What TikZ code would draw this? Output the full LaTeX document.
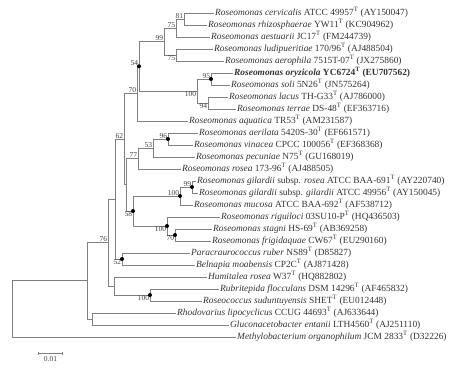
\documentclass[tikz,border=0pt]{standalone}
\usepackage{fontspec}
\setmainfont{Liberation Serif}
\usetikzlibrary{arrows.meta}
\definecolor{treegray}{gray}{0.5}
\newcommand{\T}{\textsuperscript{T}}
\tikzset{
  taxon/.style = {
    anchor=west, inner sep=1pt, text=black!80,
    font=\fontsize{9.4}{11}\selectfont, text height=6.5pt, text depth=1.5pt
  },
  bootval/.style = {
    inner sep=0.6pt, text=black!75, font=\fontsize{7.5}{8}\selectfont
  },
  branch/.style = { draw=treegray, line width=0.9pt },
  support/.style = { fill=black }
}

\begin{document}
\begin{tikzpicture}[x=1pt, y=-1pt]
  \useasboundingbox (0,0) rectangle (456,373);

    % ------------------------------------------------------------- Taxa
    \node [taxon] (l1)  at (214,13)  {\textit{Roseomonas cervicalis} ATCC 49957\T{} (AY150047)};
    \node [taxon] (l2)  at (207,25)  {\textit{Roseomonas rhizosphaerae} YW11\T{} (KC904962)};
    \node [taxon] (l3)  at (210,37)  {\textit{Roseomonas aestuarii} JC17\T{} (FM244739)};
    \node [taxon] (l4)  at (213,49)  {\textit{Roseomonas ludipueritiae} 170/96\T{} (AJ488504)};
    \node [taxon] (l5)  at (224,61)  {\textit{Roseomonas aerophila} 7515T-07\T{} (JX275860)};
    \node [taxon] (l6)  at (233,73)  {\textbf{\textit{Roseomonas oryzicola} YC6724\T{} (EU707562)}};
    \node [taxon] (l7)  at (230,85)  {\textit{Roseomonas soli} 5N26\T{} (JN575264)};
    \node [taxon] (l8)  at (228,97)  {\textit{Roseomonas lacus} TH-G33\T{} (AJ786000)};
    \node [taxon] (l9)  at (236,109) {\textit{Roseomonas terrae} DS-48\T{} (EF363716)};
    \node [taxon] (l10) at (188,121) {\textit{Roseomonas aquatica} TR53\T{} (AM231587)};
    \node [taxon] (l11) at (198,133) {\textit{Roseomonas aerilata} 5420S-30\T{} (EF661571)};
    \node [taxon] (l12) at (193,145) {\textit{Roseomonas vinacea} CPCC 100056\T{} (EF368368)};
    \node [taxon] (l13) at (195,157) {\textit{Roseomonas pecuniae} N75\T{} (GU168019)};
    \node [taxon] (l14) at (181,169) {\textit{Roseomonas rosea} 173-96\T{} (AJ488505)};
    \node [taxon] (l15) at (196,181) {\textit{Roseomonas gilardii} subsp. \textit{rosea} ATCC BAA-691\T{} (AY220740)};
    \node [taxon] (l16) at (198,193) {\textit{Roseomonas gilardii} subsp. \textit{gilardii} ATCC 49956\T{} (AY150045)};
    \node [taxon] (l17) at (193,205) {\textit{Roseomonas mucosa} ATCC BAA-692\T{} (AF538712)};
    \node [taxon] (l18) at (220,217) {\textit{Roseomonas riguiloci} 03SU10-P\T{} (HQ436503)};
    \node [taxon] (l19) at (212,229) {\textit{Roseomonas stagni} HS-69\T{} (AB369258)};
    \node [taxon] (l20) at (211,241) {\textit{Roseomonas frigidaquae} CW67\T{} (EU290160)};
    \node [taxon] (l21) at (190,253) {\textit{Paracraurococcus ruber} NS89\T{} (D85827)};
    \node [taxon] (l22) at (195,265) {\textit{Belnapia moabensis} CP2C\T{} (AJ871428)};
    \node [taxon] (l23) at (207,277) {\textit{Humitalea rosea} W37\T{} (HQ882802)};
    \node [taxon] (l24) at (219,289) {\textit{Rubritepida flocculans} DSM 14296\T{} (AF465832)};
    \node [taxon] (l25) at (202,301) {\textit{Roseococcus suduntuyensis} SHET\T{} (EU012448)};
    \node [taxon] (l26) at (176,313) {\textit{Rhodovarius lipocyclicus} CCUG 44693\T{} (AJ633644)};
    \node [taxon] (l27) at (229,325) {\textit{Gluconacetobacter entanii} LTH4560\T{} (AJ251110)};
    \node [taxon] (l28) at (236,337) {\textit{Methylobacterium organophilum} JCM 2833\T{} (D32226)};

    % ------------------------------------------------------- Inner nodes
    \coordinate (n81)   at (184,19);
    \coordinate (n75a)  at (176,28);
    \coordinate (n75b)  at (176,55);
    \coordinate (n99a)  at (164,41.5);
    \coordinate (n95)   at (211,79);
    \coordinate (n94)   at (208,103);
    \coordinate (n100a) at (197,91);
    \coordinate (n54)   at (139,66.25);
    \coordinate (n70a)  at (137,93.6);
    \coordinate (n96)   at (168,139);
    \coordinate (n53)   at (153,148);
    \coordinate (n77)   at (138,158.5);
    \coordinate (n99b)  at (192,187);
    \coordinate (n100b) at (180,196);
    \coordinate (n70b)  at (175,235);
    \coordinate (n100c) at (167,226);
    \coordinate (n58)   at (133,211);
    \coordinate (nrose) at (126,184.75);
    \coordinate (n62)   at (124,139);
    \coordinate (n52)   at (122,259);
    \coordinate (nfam)  at (115,199);
    \coordinate (n100d) at (150,295);
    \coordinate (nhum)  at (114,286);
    \coordinate (n76)   at (108,242.5);
    \coordinate (nrho)  at (92,319);
    \coordinate (nacet) at (87,280.75);
    \coordinate (root)  at (12,308.9);

    % ---------------------------------------------------------- Branches
    \draw [branch] (n81) |- (l1);   \draw [branch] (n81) |- (l2);
    \draw [branch] (n75a) |- (n81); \draw [branch] (n75a) |- (l3);
    \draw [branch] (n75b) |- (l4);  \draw [branch] (n75b) |- (l5);
    \draw [branch] (n99a) |- (n75a); \draw [branch] (n99a) |- (n75b);
    \draw [branch] (n95) |- (l6);   \draw [branch] (n95) |- (l7);
    \draw [branch] (n94) |- (l8);   \draw [branch] (n94) |- (l9);
    \draw [branch] (n100a) |- (n95); \draw [branch] (n100a) |- (n94);
    \draw [branch] (n54) |- (n99a); \draw [branch] (n54) |- (n100a);
    \draw [branch] (n70a) |- (n54); \draw [branch] (n70a) |- (l10);
    \draw [branch] (n96) |- (l11);  \draw [branch] (n96) |- (l12);
    \draw [branch] (n53) |- (n96);  \draw [branch] (n53) |- (l13);
    \draw [branch] (n77) |- (n53);  \draw [branch] (n77) |- (l14);
    \draw [branch] (n99b) |- (l15); \draw [branch] (n99b) |- (l16);
    \draw [branch] (n100b) |- (n99b); \draw [branch] (n100b) |- (l17);
    \draw [branch] (n70b) |- (l19); \draw [branch] (n70b) |- (l20);
    \draw [branch] (n100c) |- (l18); \draw [branch] (n100c) |- (n70b);
    \draw [branch] (n58) |- (n100b); \draw [branch] (n58) |- (n100c);
    \draw [branch] (nrose) |- (n77); \draw [branch] (nrose) |- (n58);
    \draw [branch] (n62) |- (n70a); \draw [branch] (n62) |- (nrose);
    \draw [branch] (n52) |- (l21);  \draw [branch] (n52) |- (l22);
    \draw [branch] (nfam) |- (n62); \draw [branch] (nfam) |- (n52);
    \draw [branch] (n100d) |- (l24); \draw [branch] (n100d) |- (l25);
    \draw [branch] (nhum) |- (l23); \draw [branch] (nhum) |- (n100d);
    \draw [branch] (n76) |- (nfam); \draw [branch] (n76) |- (nhum);
    \draw [branch] (nrho) |- (l26); \draw [branch] (nrho) |- (l27);
    \draw [branch] (nacet) |- (n76); \draw [branch] (nacet) |- (nrho);
    \draw [branch] (root) |- (nacet); \draw [branch] (root) |- (l28);

    % ------------------------------------------------- Bootstrap values
    \node [bootval, anchor=south east] (b81)   at (n81)   {81};
    \node [bootval, anchor=south east] (b75a)  at (n75a)  {75};
    \node [bootval, anchor=north east] (b75b)  at (n75b)  {75};
    \node [bootval, anchor=south east] (b99a)  at (n99a)  {99};
    \node [bootval, anchor=south east] (b95)   at (n95)   {95};
    \node [bootval, anchor=north east] (b94)   at (n94)   {94};
    \node [bootval, anchor=north east] (b100a) at (n100a) {100};
    \node [bootval, anchor=south east] (b54)   at (n54)   {54};
    \node [bootval, anchor=south east] (b70a)  at (n70a)  {70};
    \node [bootval, anchor=south east] (b96)   at (n96)   {96};
    \node [bootval, anchor=south east] (b53)   at (n53)   {53};
    \node [bootval, anchor=south east] (b77)   at (n77)   {77};
    \node [bootval, anchor=south east] (b62)   at (n62)   {62};
    \node [bootval, anchor=south east] (b99b)  at (n99b)  {99};
    \node [bootval, anchor=south east] (b100b) at (n100b) {100};
    \node [bootval, anchor=north east] (b58)   at (n58)   {58};
    \node [bootval, anchor=north east] (b100c) at (n100c) {100};
    \node [bootval, anchor=north east] (b70b)  at (n70b)  {70};
    \node [bootval, anchor=south east] (b76)   at (n76)   {76};
    \node [bootval, anchor=north east] (b52)   at (n52)   {52};
    \node [bootval, anchor=north east] (b100d) at (n100d) {100};

    % ------------------------------------------------- Supported nodes
    \foreach \n in {n54, n95, n96, n99b, n100b, n58, n100c, n70b, n52, n100d}
      \fill [support] (\n) circle [radius=2pt];

    % -------------------------------------------------------- Scale bar
    \coordinate (sb1) at (38,353);
    \coordinate (sb2) at (63,353);
    \draw [branch, line width=0.7pt, {Bar[width=3pt]}-{Bar[width=3pt]}] (sb1) -- (sb2);
    \node [bootval, anchor=north] (sblabel) at (50.5,356) {0.01};

\end{tikzpicture}
\end{document}
